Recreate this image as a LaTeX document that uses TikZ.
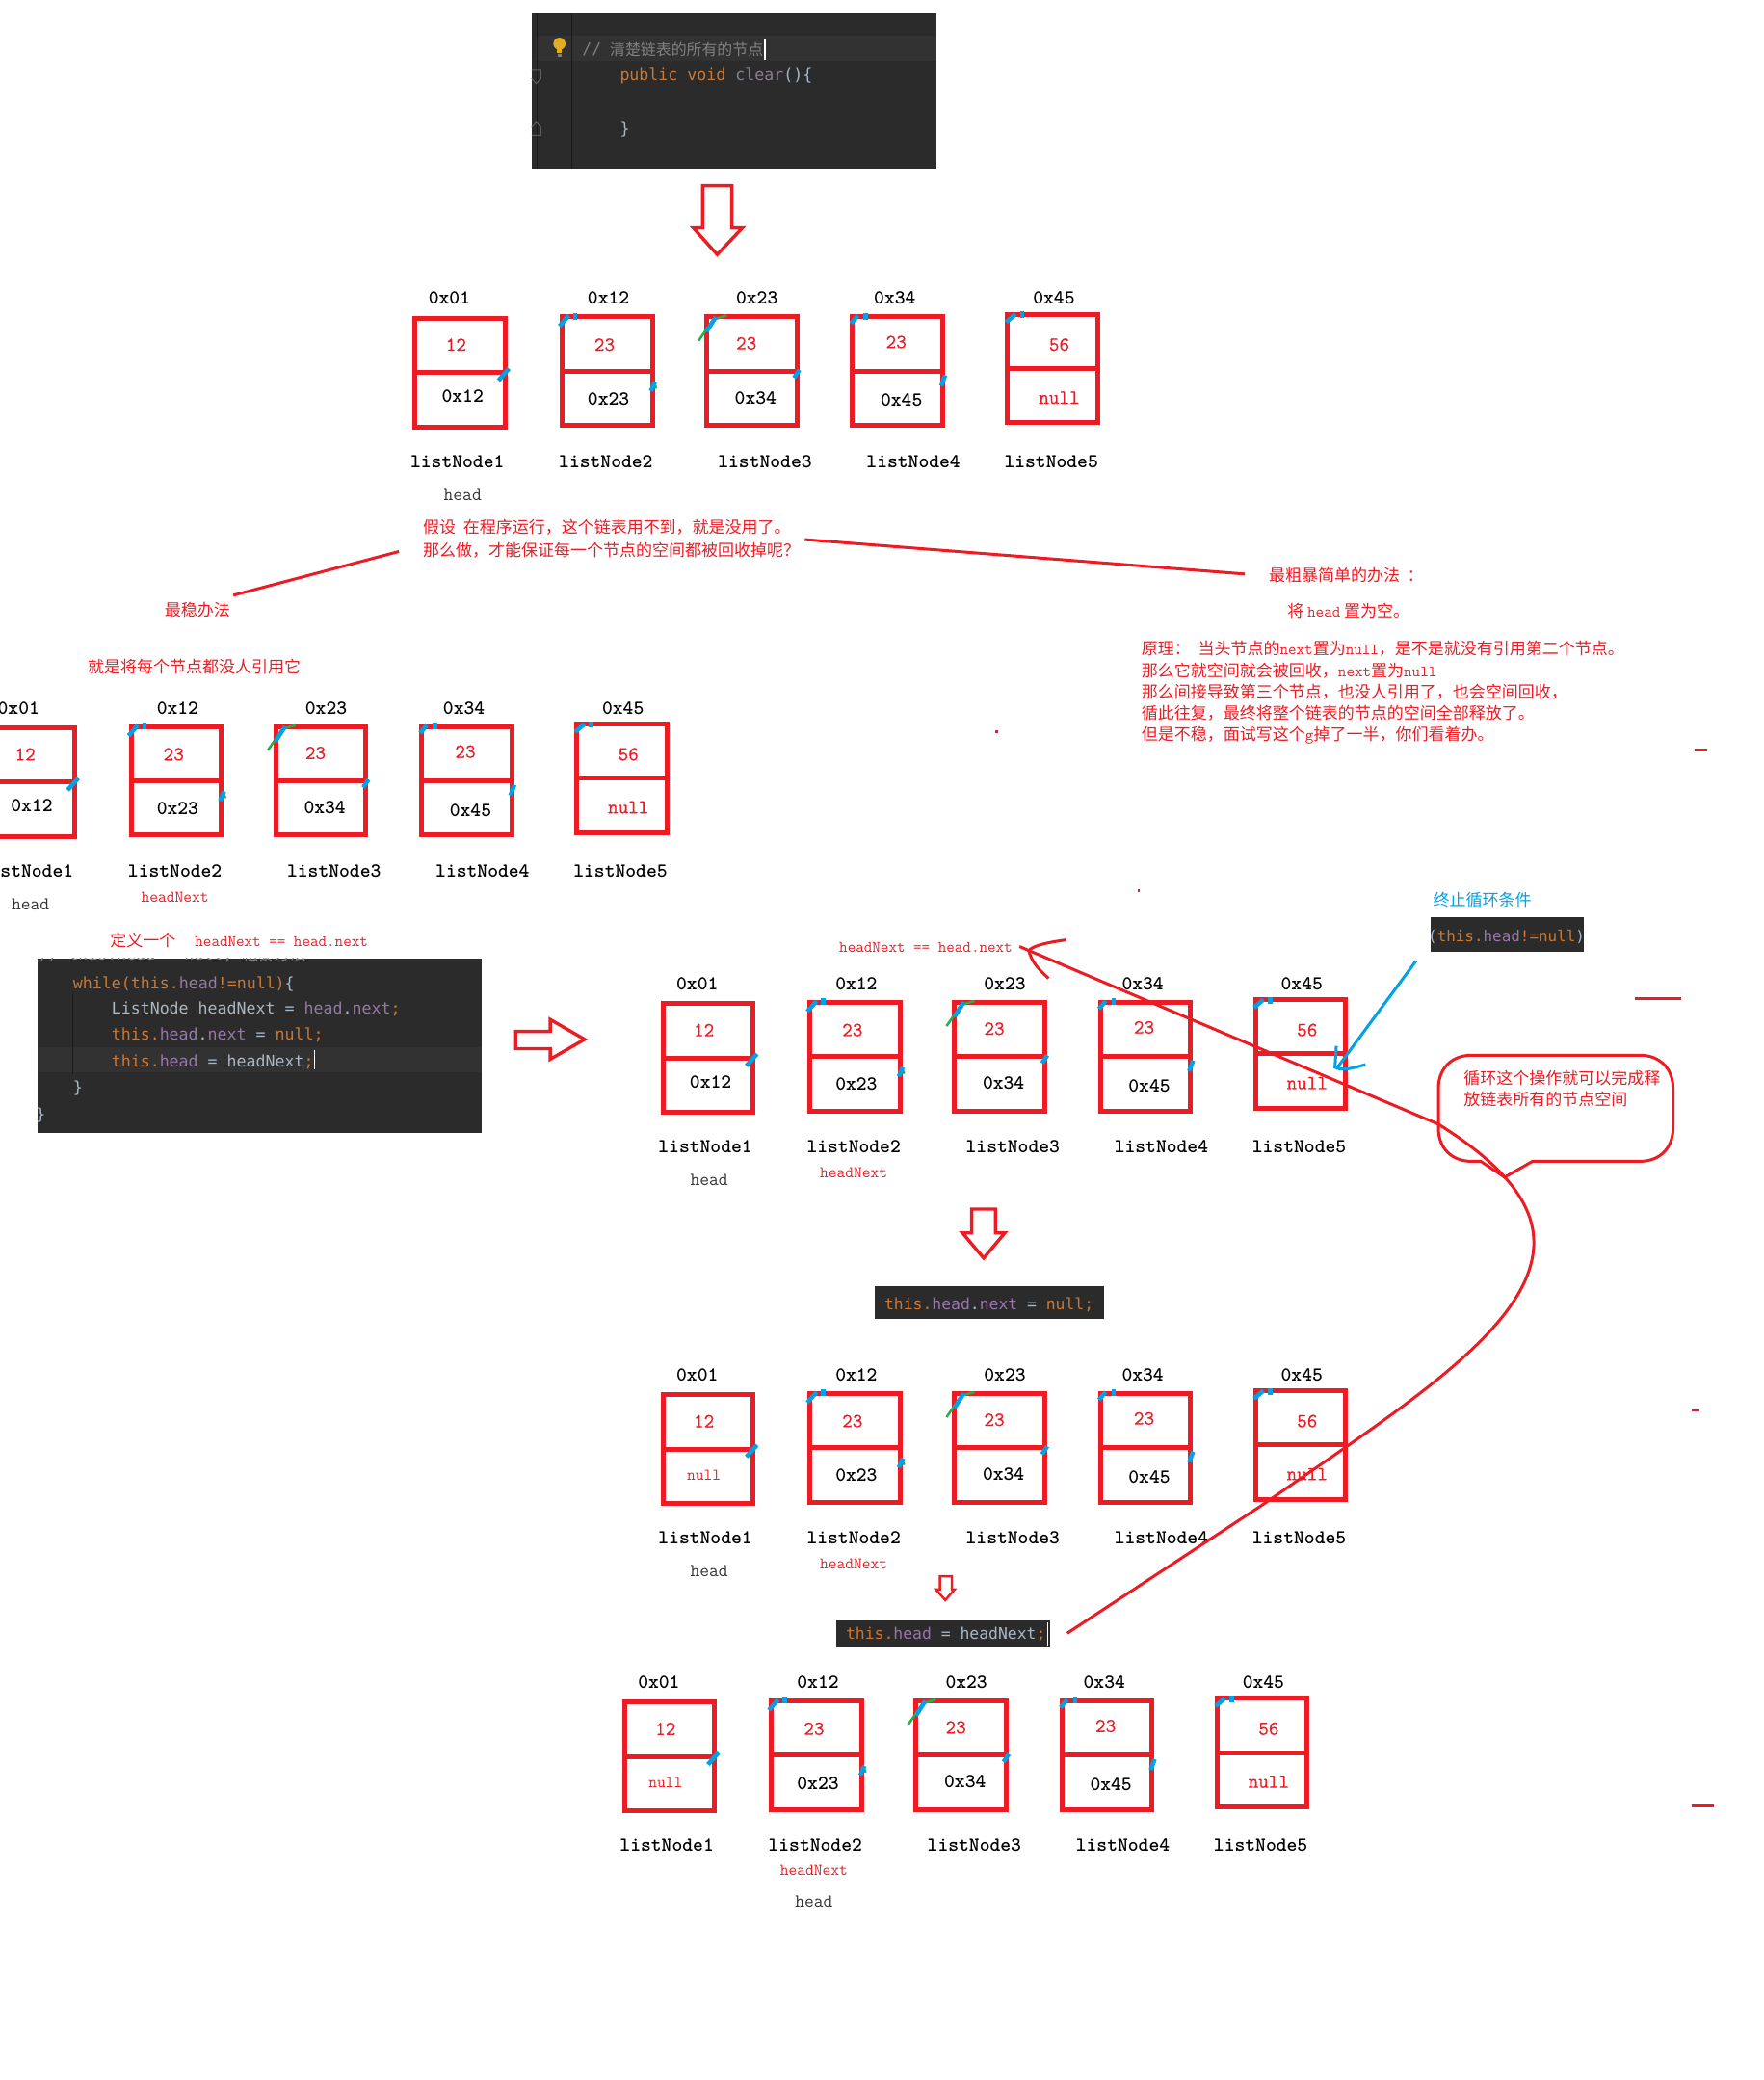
\documentclass[tikz,border=0pt]{standalone}
\usepackage{fontspec}
\newfontfamily\cjk{Noto Sans CJK SC}
\newfontfamily\codefont{DejaVu Sans Mono}
\newfontfamily\medmono[FakeBold=0.5]{Latin Modern Mono}
\definecolor{mred}{HTML}{ED1C24}
\definecolor{mblue}{HTML}{00A2E8}
\definecolor{mgreen}{HTML}{22B14C}
\definecolor{codebg}{HTML}{2B2B2B}
\definecolor{codehl}{HTML}{323232}
\definecolor{kw}{HTML}{CC7832}
\definecolor{fld}{HTML}{9876AA}
\definecolor{plain}{HTML}{A9B7C6}
\definecolor{cmt}{HTML}{808080}
\newcommand\lat[1]{{\ttfamily\fontsize{16.6}{17}\selectfont #1}}
\newcommand\K[1]{\textcolor{kw}{#1}}
\newcommand\F[1]{\textcolor{fld}{#1}}
\newcommand\cellbox[4]{\draw[boxline] (#1+1,#2+1) rectangle (#1+69,#4) (#1+1,#3) -- (#1+69,#3);}
\newcommand\linkedrow[6]{%
\begin{scope}[shift={(#2,#3)}]
\cellbox{312}{239}{281}{322}
\cellbox{423}{238}{280}{321}
\cellbox{532}{238}{280}{321}
\cellbox{642}{238}{280}{321}
\cellbox{759}{236}{278}{319}
\draw[bluemark] (376,287) -- (384,278);
\draw[bluemark] (422,246) -- (429,238);
\draw[bluemark] (434,236) -- (434,241);
\draw[greenmark] (493,288) -- (495,293);
\draw[bluemark] (491,295) -- (494,288);
\draw[greenmark] (527,257) -- (538,241) -- (548,238);
\draw[bluemark] (533,250) -- (540,239);
\draw[bluemark] (599,285) -- (603,279);
\draw[bluemark] (642,244) -- (647,238);
\draw[bluemark] (653,236) -- (653,241);
\draw[bluemark] (710,291) -- (713,283);
\draw[bluemark] (759,243) -- (766,237);
\draw[bluemark] (771,235) -- (771,240);
\node[addr,name=#1a1] at (339,225) {0x01};
\node[addr,name=#1a2] at (459,225) {0x12};
\node[addr,name=#1a3] at (571,225) {0x23};
\node[addr,name=#1a4] at (675,225) {0x34};
\node[addr,name=#1a5] at (795,225) {0x45};
\node[valtxt,name=#1v1] at (344,260) {12};
\node[valtxt,name=#1v2] at (456,260) {23};
\node[valtxt,name=#1v3] at (563,259) {23};
\node[valtxt,name=#1v4] at (676,258) {23};
\node[valtxt,name=#1v5] at (799,260) {56};
\node[#5,name=#1n1] at (#4) {#6};
\node[addr,name=#1n2] at (459,301) {0x23};
\node[addr,name=#1n3] at (570,300) {0x34};
\node[addr,name=#1n4] at (680,302) {0x45};
\node[valtxt,name=#1n5] at (799,300) {null};
\node[addr,name=#1l1] at (345,348) {listNode1};
\node[addr,name=#1l2] at (457,348) {listNode2};
\node[addr,name=#1l3] at (577,348) {listNode3};
\node[addr,name=#1l4] at (689,348) {listNode4};
\node[addr,name=#1l5] at (793,348) {listNode5};
\end{scope}}
\tikzset{
 boxline/.style={draw=mred,line width=5pt},
 bluemark/.style={draw=mblue,line width=4.5pt},
 greenmark/.style={draw=mgreen,line width=2.5pt},
 addr/.style={inner sep=0pt,text=black,font=\ttfamily\bfseries\fontsize{20.6}{21}\selectfont},
 valtxt/.style={inner sep=0pt,text=mred,font=\medmono\fontsize{20.6}{21}\selectfont},
 smallnull/.style={inner sep=0pt,text=mred,font=\ttfamily\fontsize{17}{18}\selectfont},
 headtxt/.style={inner sep=0pt,text=black!80,font=\ttfamily\fontsize{19}{20}\selectfont},
 hnexttxt/.style={inner sep=0pt,text=mred,font=\ttfamily\fontsize{17}{18}\selectfont},
 redtxt/.style={anchor=west,inner sep=0pt,text=mred,font=\cjk\fontsize{17}{18}\selectfont},
 codetxt/.style={anchor=west,inner sep=0pt,text=plain,font=\codefont\fontsize{16.6}{18}\selectfont},
 redline/.style={draw=mred,line width=3pt},
 hollow/.style={draw=mred,fill=white,line width=3.4pt,line join=miter},
}
\begin{document}
\begin{tikzpicture}[x=1.3761pt,y=-1.3761pt]
\useasboundingbox (0,0) rectangle (1330,1569);
\clip (0,0) rectangle (1330,1569);
\fill[white] (0,0) rectangle (1330,1569);
% --- top code block
\fill[codebg] (401,10) rectangle (706.5,127.5);
\fill[codehl] (404,27) rectangle (706.5,46);
\draw[black!40!codebg,line width=.8pt] (405,10) -- (405,127) (431,10) -- (431,127);
\fill[kw!60!yellow] (422,33) circle (4.6);
\fill[kw!60!yellow] (420,37) rectangle (424,40);
\fill[gray] (420.5,41) rectangle (423.5,43);
\draw[gray!60!codebg,line width=1pt] (401,53) -- (408,53) -- (408,59) -- (404.5,63) -- (401,59);
\draw[gray!60!codebg,line width=1pt] (401,102) -- (408,102) -- (408,96) -- (404.5,92) -- (401,96);
\node[codetxt,text=cmt,name=c1a] at (439,37.5) {//};
\node[anchor=west,inner sep=0pt,text=cmt,font=\cjk\fontsize{15.9}{16}\selectfont,name=c1b] at (460,37.5) {清楚链表的所有的节点};
\draw[white,line width=1.2pt] (577,29) -- (577,45);
\node[codetxt,name=c1c] at (467.5,57.5) {\K{public void }\textcolor{fld!40!cmt}{clear}()\{};
\node[codetxt,name=c1d] at (467.5,97.5) {\}};
% --- down arrow 1
\draw[hollow] (530,140) -- (552,140) -- (552,172) -- (560,172) -- (541,192) -- (523,172) -- (530,172) -- cycle;
% --- row 1
\linkedrow{ra}{0}{0}{349,299}{addr}{0x12}
\node[headtxt,name=rahead] at (349,373) {head};
% --- middle text
\node[redtxt,name=t1] at (319,398) {假设\ \ 在程序运行，这个链表用不到，就是没用了。};
\node[redtxt,name=t2] at (319,415) {那么做，才能保证每一个节点的空间都被回收掉呢？};
\node[redtxt,name=t3] at (124,460) {最稳办法};
\node[redtxt,name=t4] at (66,503) {就是将每个节点都没人引用它};
\node[redtxt,name=t5] at (957,434) {最粗暴简单的办法\ \ ：};
\node[redtxt,name=t6] at (971,461) {将\ \lat{head}\ 置为空。};
\node[redtxt,name=t7] at (861,489) {原理：\ \ 当头节点的\lat{next}置为\lat{null}，是不是就没有引用第二个节点。};
\node[redtxt,name=t8] at (861,506) {那么它就空间就会被回收，\lat{next}置为\lat{null}};
\node[redtxt,name=t9] at (861,522) {那么间接导致第三个节点，也没人引用了，也会空间回收，};
\node[redtxt,name=t10] at (861,538) {循此往复，最终将整个链表的节点的空间全部释放了。};
\node[redtxt,name=t11] at (861,555) {但是不稳，面试写这个\lat{g}掉了一半，你们看着办。};
\coordinate (la1) at (176,449); \coordinate (la2) at (301,416);
\coordinate (lb1) at (607,407); \coordinate (lb2) at (939,433);
\draw[redline] (la1) -- (la2);
\draw[redline] (lb1) -- (lb2);
% --- stray marks
\fill[mred] (751,551) rectangle (753,553);
\fill[mred] (858,671) rectangle (860,673);
\fill[mred] (1278,565) rectangle (1288,567);
\fill[mred] (1233,752) rectangle (1268,754);
\fill[mred] (1276,1063) rectangle (1282,1065);
\fill[mred] (1276,1361) rectangle (1293,1363);
% --- row 2
\linkedrow{rb}{-325}{309}{349,299}{addr}{0x12}
\node[hnexttxt,name=rbnext] at (132,677) {headNext};
\node[headtxt,name=rbhead] at (23,682) {head};
% --- while code
\node[redtxt,name=t12] at (83,709) {定义一个\hspace{20pt}\lat{headNext == head.next}};
\fill[codebg] (28,723) rectangle (363,854.5);
\fill[codehl] (28,790) rectangle (363,809);
\begin{scope}
\clip (28,723) rectangle (363,854.5);
\node[codetxt,text=cmt,name=c2z] at (30,720) {// this.head = null; \cjk 粗暴方法};
\draw[black!40!codebg,line width=.8pt] (55,750) -- (55,810);
\node[codetxt,name=c2a] at (55,742) {\K{while(this.}\F{head}\K{!=null)}\{};
\node[codetxt,name=c2b] at (84,761) {ListNode headNext = \F{head}.\F{next}\K{;}};
\node[codetxt,name=c2c] at (84,781) {\K{this.}\F{head}.\F{next} = \K{null;}};
\node[codetxt,name=c2d] at (84,801) {\K{this.}\F{head} = headNext\K{;}};
\draw[white,line width=1pt] (237,792) -- (237,807);
\node[codetxt,name=c2e] at (55,821) {\}};
\node[codetxt,name=c2f] at (27,841) {\}};
\end{scope}
% --- right arrow
\draw[hollow] (389,778) -- (415,778) -- (415,769) -- (441,784) -- (415,799) -- (415,791) -- (389,791) -- cycle;
% --- row 3
\node[redtxt,name=t13] at (633,715) {\lat{headNext == head.next}};
\linkedrow{rc}{187}{517}{349,299}{addr}{0x12}
\node[hnexttxt,name=rcnext] at (644,885) {headNext};
\node[headtxt,name=rchead] at (535,890) {head};
% --- condition
\node[redtxt,text=mblue,name=t14] at (1081,679) {终止循环条件};
\fill[codebg] (1079,692) rectangle (1195,718);
\begin{scope}
\clip (1079,692) rectangle (1195,718);
\node[codetxt,font=\codefont\fontsize{15.9}{17}\selectfont,name=c3] at (1077,707) {(\K{this.}\F{head}\K{!=null})};
\end{scope}
% --- callout
\draw[redline] (1110,796) -- (1237,796) .. controls (1252,796) and (1262,806) .. (1262,821)
 -- (1262,851) .. controls (1262,866) and (1252,876) .. (1237,876) -- (1156,876) -- (1135,888) -- (1117,876) -- (1110,876)
 .. controls (1095,876) and (1085,866) .. (1085,851) -- (1085,821) .. controls (1085,806) and (1095,796) .. (1110,796) -- cycle;
\node[redtxt,name=t15] at (1104,813) {循环这个操作就可以完成释};
\node[redtxt,name=t16] at (1104,829) {放链表所有的节点空间};
% --- down arrow 2
\draw[hollow] (733,912) -- (751,912) -- (751,930) -- (758,930) -- (742,949) -- (726,930) -- (733,930) -- cycle;
% --- chip 1
\fill[codebg] (660,970) rectangle (833,995);
\node[codetxt,font=\codefont\fontsize{16.4}{17}\selectfont,name=c4] at (667,984) {\K{this.}\F{head}.\F{next} = \K{null;}};
% --- row 4
\linkedrow{rd}{187}{812}{344,301}{smallnull}{null}
\node[hnexttxt,name=rdnext] at (644,1180) {headNext};
\node[headtxt,name=rdhead] at (535,1185) {head};
% --- small arrow
\draw[hollow,line width=2.4pt] (709,1189) -- (718,1189) -- (718,1199) -- (720,1199) -- (713,1207) -- (706,1199) -- (709,1199) -- cycle;
% --- chip 2
\fill[codebg] (631,1222) rectangle (792,1243);
\node[codetxt,font=\codefont\fontsize{16.4}{17}\selectfont,name=c5] at (638,1233) {\K{this.}\F{head} = headNext\K{;}};
\draw[white,line width=1pt] (790,1224) -- (790,1241);
% --- row 5
\linkedrow{re}{158}{1044}{344,301}{smallnull}{null}
\node[hnexttxt,name=renext] at (614,1411) {headNext};
\node[headtxt,name=rehead] at (614,1434) {head};
% --- blue arrow
\coordinate (ba1) at (1068,725); \coordinate (ba2) at (1009,805);
\draw[mblue,line width=3pt] (ba1) -- (ba2);
\draw[mblue,line width=3pt] (1008,789) -- (1007,805) .. controls (1012,808) and (1020,806) .. (1030,803);
% --- long red arrow
\coordinate (ra1) at (805,1232); \coordinate (ra2) at (769,714);
\draw[redline] (ra1) -- (954,1134) .. controls (1060,1060) and (1157,1000) .. (1157,937)
 .. controls (1157,900) and (1120,870) .. (1085,848) -- (ra2);
\draw[redline] (804,709) .. controls (790,711) and (780,713) .. (776,717) .. controls (778,725) and (783,731) .. (791,738);
\end{tikzpicture}
\end{document}
